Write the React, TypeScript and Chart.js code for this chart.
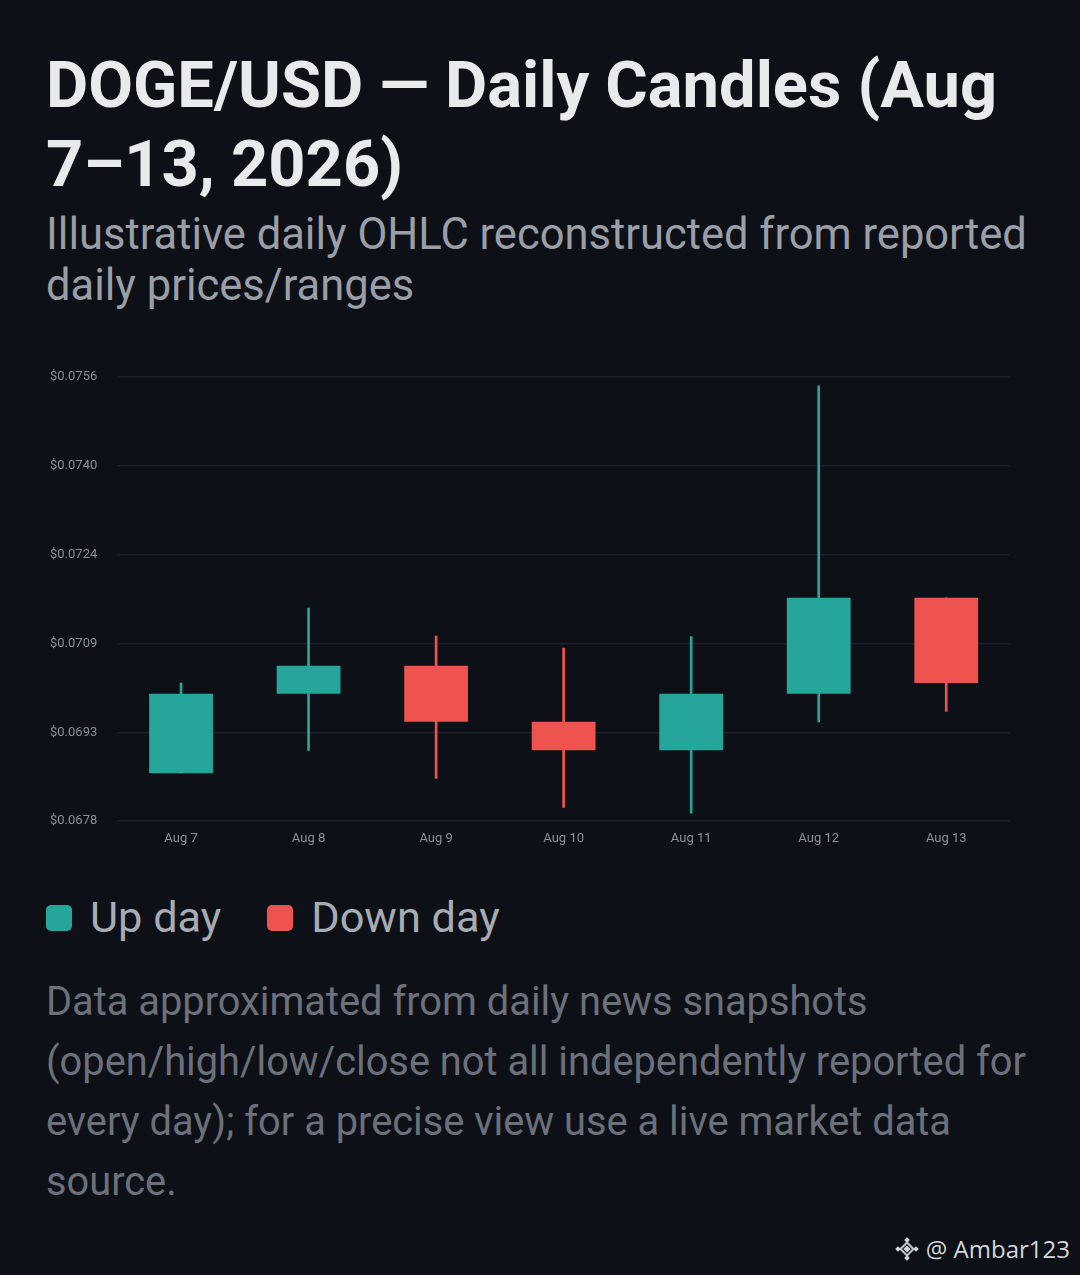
import { useEffect, useRef } from 'react';
import { Chart, registerables } from 'chart.js';

Chart.register(...registerables);

const days = ['Aug 7', 'Aug 8', 'Aug 9', 'Aug 10', 'Aug 11', 'Aug 12', 'Aug 13'];
const opens = [0.06862, 0.07001, 0.0705, 0.06952, 0.06902, 0.07001, 0.07169];
const highs = [0.0702, 0.07151, 0.07102, 0.07081, 0.07101, 0.0754, 0.07169];
const lows = [0.06862, 0.06902, 0.06853, 0.06802, 0.06792, 0.06952, 0.0697];
const closes = [0.07001, 0.0705, 0.06952, 0.06902, 0.07001, 0.07169, 0.0702];
const yTickValues = [0.06778, 0.069336, 0.070892, 0.072448, 0.074004, 0.07556];

const UP = '#26a69a';
const DOWN = '#ef5350';
const BG = '#0e1017';

export default function App() {
  const canvasRef = useRef<HTMLCanvasElement>(null);

  useEffect(() => {
    document.body.style.margin = '0';
    document.body.style.background = BG;
    if (!canvasRef.current) return;

    const colors = days.map((_, i) => (closes[i] >= opens[i] ? UP : DOWN));

    const chart = new Chart(canvasRef.current, {
      type: 'bar',
      data: {
        labels: days,
        datasets: [
          {
            label: 'Body',
            data: days.map((_, i) => [opens[i], closes[i]]),
            backgroundColor: colors,
            borderWidth: 0,
            borderSkipped: false,
            grouped: false,
            barPercentage: 0.5,
            categoryPercentage: 1,
            order: 1,
          },
          {
            label: 'Wick',
            data: days.map((_, i) => [lows[i], highs[i]]),
            backgroundColor: colors,
            borderWidth: 0,
            grouped: false,
            barThickness: 2,
            order: 2,
          },
        ],
      },
      options: {
        animation: false,
        responsive: true,
        maintainAspectRatio: false,
        layout: { padding: { left: 30, right: 70, top: 12, bottom: 0 } },
        plugins: {
          legend: { display: false },
          tooltip: { enabled: false },
        },
        scales: {
          x: {
            grid: { display: false },
            border: { display: false },
            ticks: {
              color: '#8b8f98',
              font: { family: 'Roboto', size: 13 },
              padding: 2,
            },
          },
          y: {
            min: yTickValues[0],
            max: yTickValues[yTickValues.length - 1],
            afterBuildTicks: (scale: any) => {
              scale.ticks = yTickValues.map((v) => ({ value: v }));
            },
            grid: { color: '#1b1f28', drawTicks: false, lineWidth: 1.5 },
            border: { display: false },
            ticks: {
              color: '#8b8f98',
              font: { family: 'Roboto', size: 13 },
              padding: 20,
              callback: (v: any) => '$' + Number(v).toFixed(4),
            },
          },
        },
      },
    });

    return () => chart.destroy();
  }, []);

  return (
    <div
      style={{
        position: 'relative',
        width: 1080,
        height: 1275,
        background: BG,
        fontFamily: 'Roboto, sans-serif',
        overflow: 'hidden',
      }}
    >
      <div
        style={{
          position: 'absolute',
          left: 46,
          top: 46,
          width: 1010,
          color: '#e9eaec',
          fontWeight: 700,
          fontSize: 65,
          lineHeight: '79px',
        }}
      >
        DOGE/USD — Daily Candles (Aug 7–13, 2026)
      </div>
      <div
        style={{
          position: 'absolute',
          left: 46,
          top: 209,
          width: 1010,
          color: '#9a9ea7',
          fontSize: 43.5,
          lineHeight: '51px',
        }}
      >
        Illustrative daily OHLC reconstructed from reported daily prices/ranges
      </div>

      <div style={{ position: 'absolute', left: 0, top: 349, width: 1080, height: 500 }}>
        <canvas ref={canvasRef} />
      </div>

      <div
        style={{
          position: 'absolute',
          left: 46,
          top: 892,
          display: 'flex',
          alignItems: 'center',
          color: '#a7abb3',
          fontSize: 43.3,
          lineHeight: '52px',
        }}
      >
        <span style={{ width: 26, height: 26, borderRadius: 5, background: UP, marginRight: 18 }} />
        <span style={{ marginRight: 46 }}>Up day</span>
        <span style={{ width: 26, height: 26, borderRadius: 5, background: DOWN, marginRight: 18 }} />
        <span>Down day</span>
      </div>

      <div
        style={{
          position: 'absolute',
          left: 46,
          top: 972,
          width: 1000,
          color: '#6b707b',
          fontSize: 39.8,
          lineHeight: '60px',
        }}
      >
        Data approximated from daily news snapshots (open/high/low/close not all independently
        reported for every day); for a precise view use a live market data source.
      </div>

      <div
        style={{
          position: 'absolute',
          right: 10,
          top: 1232,
          display: 'flex',
          alignItems: 'center',
          color: '#d4d6da',
          fontFamily: '"Open Sans", sans-serif',
          fontSize: 24,
        }}
      >
        <svg width="26" height="26" viewBox="0 0 26 26" style={{ marginRight: 6 }}>
          <g fill="#d4d6da">
            <rect x="11" y="2" width="4" height="4" transform="rotate(45 13 4)" />
            <rect x="11" y="20" width="4" height="4" transform="rotate(45 13 22)" />
            <rect x="2" y="11" width="4" height="4" transform="rotate(45 4 13)" />
            <rect x="20" y="11" width="4" height="4" transform="rotate(45 22 13)" />
            <rect x="10.5" y="10.5" width="5" height="5" transform="rotate(45 13 13)" />
            <path d="M13 5 L21 13 L13 21 L5 13 Z M13 8 L8 13 L13 18 L18 13 Z" fillRule="evenodd" opacity="0.9" />
          </g>
        </svg>
        <span>@ Ambar123</span>
      </div>
    </div>
  );
}
